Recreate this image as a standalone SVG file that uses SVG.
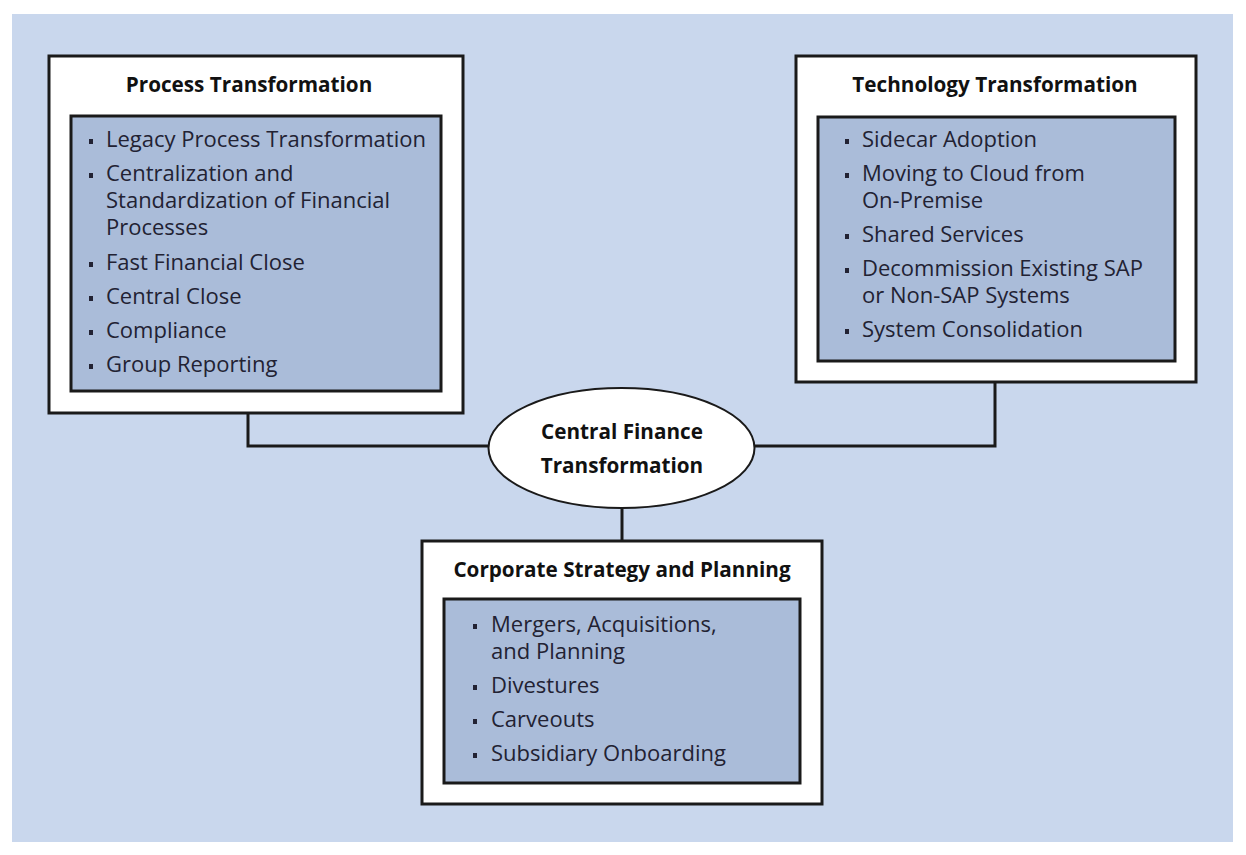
<svg xmlns="http://www.w3.org/2000/svg" width="1246" height="855" viewBox="0 0 1246 855">
<style>
.outer{fill:#ffffff;stroke:#1a1a1a;stroke-width:3}
.inner{fill:#aabcd9;stroke:#1a1a1a;stroke-width:3}
.conn{fill:none;stroke:#1a1a1a;stroke-width:3}
.title{font-family:"Open Sans","Noto Sans",sans-serif;font-weight:700;font-size:20.7px;fill:#111111;text-anchor:middle}
.item{font-family:"Open Sans","Noto Sans",sans-serif;font-size:22px;fill:#222233}
.bul{fill:#222233}
</style>
<rect x="0" y="0" width="1246" height="855" fill="#ffffff"/>
<rect x="12" y="14" width="1221" height="828" fill="#c9d7ed"/>
<g id="connectors">
<polyline class="conn" points="248,414 248,446 489,446"/>
<polyline class="conn" points="995,382 995,446 754,446"/>
<line class="conn" x1="622" y1="509" x2="622" y2="541"/>
</g>
<g id="process">
<rect class="outer" x="49" y="56" width="414" height="357"/>
<text class="title" x="249" y="92">Process Transformation</text>
<rect class="inner" x="71" y="116" width="370" height="275"/>
<rect class="bul" x="89" y="139" width="4" height="5"/><text class="item" x="106" y="147">Legacy Process Transformation</text>
<rect class="bul" x="89" y="173" width="4" height="5"/><text class="item" x="106" y="181">Centralization and<tspan x="106" dy="27">Standardization of Financial</tspan><tspan x="106" dy="27">Processes</tspan></text>
<rect class="bul" x="89" y="262" width="4" height="5"/><text class="item" x="106" y="270">Fast Financial Close</text>
<rect class="bul" x="89" y="296" width="4" height="5"/><text class="item" x="106" y="304">Central Close</text>
<rect class="bul" x="89" y="330" width="4" height="5"/><text class="item" x="106" y="338">Compliance</text>
<rect class="bul" x="89" y="364" width="4" height="5"/><text class="item" x="106" y="372">Group Reporting</text>
</g>
<g id="technology">
<rect class="outer" x="796" y="56" width="400" height="326"/>
<text class="title" x="995" y="92">Technology Transformation</text>
<rect class="inner" x="818" y="117" width="357" height="244"/>
<rect class="bul" x="845" y="139" width="4" height="5"/><text class="item" x="862" y="147">Sidecar Adoption</text>
<rect class="bul" x="845" y="173" width="4" height="5"/><text class="item" x="862" y="181">Moving to Cloud from<tspan x="862" dy="27">On-Premise</tspan></text>
<rect class="bul" x="845" y="234" width="4" height="5"/><text class="item" x="862" y="242">Shared Services</text>
<rect class="bul" x="845" y="268" width="4" height="5"/><text class="item" x="862" y="276">Decommission Existing SAP<tspan x="862" dy="27">or Non-SAP Systems</tspan></text>
<rect class="bul" x="845" y="329" width="4" height="5"/><text class="item" x="862" y="337">System Consolidation</text>
</g>
<g id="central">
<ellipse cx="621.5" cy="448" rx="133" ry="60" fill="#ffffff" stroke="#1a1a1a" stroke-width="2"/>
<text class="title" x="622" y="439">Central Finance<tspan x="622" dy="34">Transformation</tspan></text>
</g>
<g id="corporate">
<rect class="outer" x="422" y="541" width="400" height="263"/>
<text class="title" x="622" y="577">Corporate Strategy and Planning</text>
<rect class="inner" x="444" y="599" width="356" height="184"/>
<rect class="bul" x="473" y="624" width="4" height="5"/><text class="item" x="491" y="632">Mergers, Acquisitions,<tspan x="491" dy="27">and Planning</tspan></text>
<rect class="bul" x="473" y="685" width="4" height="5"/><text class="item" x="491" y="693">Divestures</text>
<rect class="bul" x="473" y="719" width="4" height="5"/><text class="item" x="491" y="727">Carveouts</text>
<rect class="bul" x="473" y="753" width="4" height="5"/><text class="item" x="491" y="761">Subsidiary Onboarding</text>
</g>
</svg>
